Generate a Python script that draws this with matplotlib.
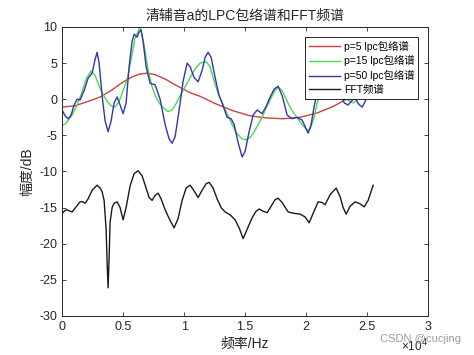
import matplotlib.pyplot as plt
import numpy as np

plt.rcParams['font.family'] = ['Liberation Sans', 'Noto Sans CJK SC', 'DejaVu Sans']
plt.rcParams["axes.unicode_minus"] = False

# 读图估计的数据点 (频率 Hz, 幅度 dB)
f_p5 = [0, 1066, 2132, 3116, 4100, 4920, 5740, 6396, 6970, 7626, 8446, 9266,
        10496, 11316, 12546, 14022, 15416, 16810, 18122, 19516, 20910, 22222,
        23616, 24600, 25584]
a_p5 = [-1.1, -0.9, -0.3, 0.3, 1.3, 2.3, 3.1, 3.5, 3.6, 3.4, 2.8, 2.0, 0.9, 0.4,
        -0.6, -1.6, -2.3, -2.6, -2.7, -2.5, -1.9, -1.0, 0.3, 1.2, 2.0]

f_p15 = [0, 328, 820, 1230, 1640, 1968, 2378, 2706, 3034, 3280, 3690, 4018,
         4346, 4674, 5002, 5330, 5658, 5986, 6396, 6724, 7052, 7380, 7708, 8036,
         8364, 8692, 9020, 9348, 9676, 10086, 10496, 10906, 11316, 11808, 12136,
         12464, 12792, 13120, 13530, 13940, 14350, 14760, 15088, 15416, 15744,
         16072, 16400, 16728, 17056, 17384, 17712, 18040, 18450, 18860, 19270,
         19680, 20090, 20336, 20664, 20910, 21156, 21812, 22468, 22960, 23370,
         23862, 24272, 24764, 25256, 25584]
a_p15 = [-3.7, -3.3, -2.2, -0.8, 1.0, 2.8, 3.9, 3.3, 1.8, 0.9, -0.3, -0.9, -1.1,
         -0.3, 1.2, 2.7, 5.5, 8.5, 10.0, 7.5, 4.0, 1.7, 0.2, -0.7, -1.3, -1.7,
         -1.5, -0.6, 0.5, 1.7, 3.0, 4.2, 5.0, 5.2, 4.5, 2.5, 0.8, -0.5, -2.0,
         -3.5, -4.8, -5.5, -5.6, -5.3, -4.5, -3.5, -2.5, -1.2, -0.1, 1.0, 1.7,
         1.2, -0.3, -1.6, -2.6, -3.5, -4.3, -4.1, -2.5, -0.5, 0.8, 2.0, 1.5, 0.5,
         -0.1, -0.5, 0.0, 1.0, 2.0, 2.5]

f_p50 = [0, 246, 492, 738, 984, 1230, 1476, 1804, 2132, 2460, 2706, 2870, 3034,
         3280, 3526, 3772, 4018, 4264, 4510, 4756, 5002, 5248, 5494, 5740, 5904,
         6150, 6314, 6478, 6642, 6888, 7216, 7626, 8036, 8446, 8774, 9020, 9266,
         9594, 9922, 10250, 10496, 10824, 11152, 11480, 11726, 11972, 12218,
         12546, 12874, 13120, 13530, 13858, 14104, 14432, 14760, 15006, 15334,
         15662, 15990, 16400, 16728, 17056, 17384, 17712, 18040, 18450, 18860,
         19270, 19680, 19926, 20172, 20418, 20664, 20910, 21156, 21402, 21648,
         21976, 22386, 22796, 23124, 23452, 23698, 24026, 24272, 24600, 24846,
         25010, 25338, 25584]
a_p50 = [-1.5, -2.3, -2.7, -2.2, -0.8, 0.0, -0.1, 1.2, 2.9, 3.6, 5.5, 6.5, 5.0,
         0.5, -3.0, -4.5, -3.0, -0.5, 0.3, -0.8, -2.0, -0.5, 4.5, 8.0, 9.0, 8.6,
         9.3, 9.6, 8.0, 4.5, 2.2, 2.0, 0.0, -3.5, -5.5, -6.1, -5.2, -1.5, 2.5,
         5.0, 4.5, 3.0, 2.4, 4.0, 5.8, 6.5, 5.8, 3.0, 0.5, -0.5, -2.5, -2.7,
         -3.5, -6.0, -8.0, -7.2, -4.5, -2.2, -1.5, -2.0, -1.0, 0.3, 1.4, 1.8,
         0.5, -2.2, -2.7, -2.5, -2.9, -3.8, -4.7, -3.5, -1.0, 0.9, 1.8, 0.8, 0.3,
         1.5, 2.0, 0.8, -0.5, -0.8, -0.3, 0.2, -0.6, -1.1, -0.3, 0.4, 1.5, 2.0]

f_fft = [0, 246, 410, 656, 820, 1148, 1476, 1722, 1886, 2132, 2460, 2870, 3116,
         3280, 3444, 3608, 3690, 3772, 3854, 3936, 4100, 4264, 4510, 4756, 5002,
         5248, 5576, 5904, 6232, 6560, 6888, 7134, 7380, 7626, 7872, 8118, 8446,
         8856, 9184, 9512, 9840, 10168, 10496, 10824, 11152, 11480, 11808, 12054,
         12382, 12710, 13038, 13366, 13776, 14186, 14514, 14842, 15170, 15580,
         15908, 16154, 16482, 16810, 17138, 17466, 17712, 18040, 18532, 19024,
         19516, 19926, 20254, 20582, 20992, 21320, 21566, 21976, 22468, 22796,
         23042, 23288, 23616, 24026, 24436, 24764, 25092, 25502]
a_fft = [-15.8, -15.4, -15.3, -15.5, -15.6, -14.9, -14.2, -14.2, -14.4, -13.8,
         -12.6, -11.9, -12.3, -12.8, -14.0, -18.0, -22.5, -26.1, -22.0, -17.0,
         -15.0, -14.4, -14.2, -15.0, -16.7, -15.0, -12.0, -10.3, -9.9, -10.6,
         -12.3, -13.6, -14.0, -13.3, -13.0, -13.8, -15.3, -16.8, -17.8, -16.5,
         -14.0, -12.3, -11.9, -12.7, -13.6, -12.6, -11.7, -11.5, -12.3, -13.8,
         -15.0, -15.6, -16.0, -16.7, -17.8, -19.3, -18.0, -16.4, -15.5, -15.2,
         -15.5, -15.7, -14.8, -13.9, -13.7, -14.3, -15.6, -15.8, -15.9, -16.3,
         -17.1, -15.8, -14.2, -14.3, -14.6, -13.2, -12.3, -13.5, -15.0, -15.9,
         -14.8, -14.2, -14.5, -14.9, -14.0, -11.9]

xt = [0, 5000, 10000, 15000, 20000, 25000, 30000]
xt_lab = ['0', '0.5', '1', '1.5', '2', '2.5', '3']
yt = [-30, -25, -20, -15, -10, -5, 0, 5, 10]

fig = plt.figure(figsize=(4.74, 3.55), dpi=100)
ax = fig.add_axes([0.131, 0.110, 0.772, 0.814])

ax.plot(f_p5, a_p5, color='#cc4040', lw=1.0, label='p=5 lpc包络谱')
ax.plot(f_p15, a_p15, color='#48dc48', lw=1.0, label='p=15 lpc包络谱')
ax.plot(f_p50, a_p50, color='#3434b4', lw=1.0, label='p=50 lpc包络谱')
ax.plot(f_fft, a_fft, color='#1a1a1a', lw=1.0, label='FFT频谱')

ax.set_xlim(0, 30000)
ax.set_ylim(-30, 10)
ax.set_xticks(xt)
ax.set_xticklabels(xt_lab)
ax.set_yticks(yt)
ax.tick_params(direction='in', top=True, right=True, length=3, labelsize=9,
               colors='#262626', width=0.6)
for s in ax.spines.values():
    s.set_color('#262626')
    s.set_linewidth(0.7)

ax.set_title('清辅音a的LPC包络谱和FFT频谱', fontsize=10, color='#262626', pad=5)
ax.set_xlabel('频率/Hz', fontsize=10, color='#262626', labelpad=3)
ax.set_ylabel('幅度/dB', fontsize=10, color='#262626', labelpad=4)
ax.text(1.0, -0.105, '×10$^4$', transform=ax.transAxes, ha='right', va='center',
        fontsize=8.5, color='#262626')

leg = ax.legend(loc='upper right', bbox_to_anchor=(1 - 10 / 366, 1 - 10 / 289),
                borderaxespad=0, fontsize=7.5, fancybox=False, framealpha=1,
                edgecolor='#262626', handlelength=3.0, handletextpad=0.35,
                labelspacing=0.35, borderpad=0.35)
leg.get_frame().set_linewidth(0.7)

fig.text(0.972, 0.045, 'CSDN @cucjing', ha='right', va='center', fontsize=8,
         color='#9a9a9a')

plt.savefig('out.png')
